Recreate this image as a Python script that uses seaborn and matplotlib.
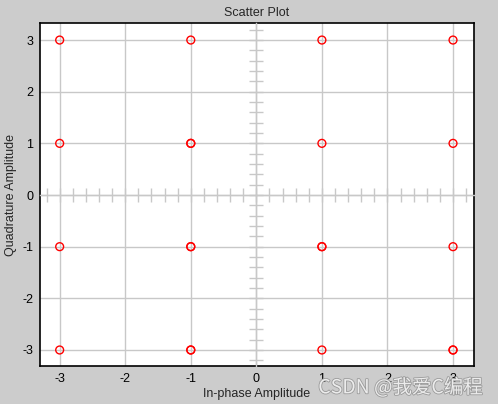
import numpy as np
import pandas as pd
import seaborn as sns
import matplotlib.pyplot as plt
import matplotlib.patheffects as pe
from matplotlib.ticker import MultipleLocator

# 16-QAM constellation points (some symbols drawn twice -> darker rings)
in_phase = [-3, -3, -3, -3, -1, -1, -1, -1, 1, 1, 1, 1, 3, 3, 3, 3,
            -1, -1, 1, 3, -1]
quadrature = [3, 1, -1, -3, 3, 1, -1, -3, 3, 1, -1, -3, 3, 1, -1, -3,
              -1, 1, -1, -3, -3]
x_ticks = [-3, -2, -1, 0, 1, 2, 3]
y_ticks = [-3, -2, -1, 0, 1, 2, 3]

df = pd.DataFrame({'I': in_phase, 'Q': quadrature})

sns.set_style('white')
plt.rcParams['font.family'] = ['Liberation Sans', 'DejaVu Sans']
plt.rcParams['axes.unicode_minus'] = False

fig = plt.figure(figsize=(4.98, 4.04), dpi=100, facecolor='#cccccc')
pos = [40 / 498, 38 / 404, 434 / 498, 343 / 404]
xlim = (-3.3, 3.32)
ylim = (-3.31, 3.33)

ax = fig.add_axes(pos)
ax.set_facecolor('white')
ax.set_xlim(xlim)
ax.set_ylim(ylim)
ax.set_xticks(x_ticks)
ax.set_yticks(y_ticks)
ax.grid(True, color='#c8c8c8', linewidth=1)
ax.set_axisbelow(True)
for s in ax.spines.values():
    s.set_color('black')
    s.set_linewidth(1.2)
ax.tick_params(length=0, labelsize=9, pad=5, colors='black')

sns.scatterplot(data=df, x='I', y='Q', ax=ax, marker='o', s=32,
                facecolor='none', edgecolor='red', linewidth=1, zorder=5)

ax.set_title('Scatter Plot', fontsize=9, pad=5)
ax.set_xlabel('In-phase Amplitude', fontsize=9, labelpad=2)
ax.set_ylabel('Quadrature Amplitude', fontsize=9, labelpad=4)

# centre cross with small ticks, like matlab scatterplot
ax2 = fig.add_axes(pos)
ax2.patch.set_alpha(0)
ax2.set_xlim(xlim)
ax2.set_ylim(ylim)
ax2.spines['left'].set_position('zero')
ax2.spines['bottom'].set_position('zero')
ax2.spines['top'].set_visible(False)
ax2.spines['right'].set_visible(False)
for k in ['left', 'bottom']:
    ax2.spines[k].set_color('#c8c8c8')
    ax2.spines[k].set_linewidth(1)
ax2.xaxis.set_major_locator(MultipleLocator(0.2))
ax2.yaxis.set_major_locator(MultipleLocator(0.2))
ax2.tick_params(direction='inout', length=10, width=1, color='#c8c8c8',
                bottom=True, left=True, labelbottom=False, labelleft=False)

fig.text(0.97, 0.04, 'CSDN @我爱C编程', ha='right', va='center', fontsize=14,
         color='#ececec', family=['Noto Sans CJK SC', 'DejaVu Sans'],
         path_effects=[pe.withStroke(linewidth=1.2, foreground='#9a9a9a')])

fig.savefig('out.png', dpi=100, facecolor=fig.get_facecolor())
